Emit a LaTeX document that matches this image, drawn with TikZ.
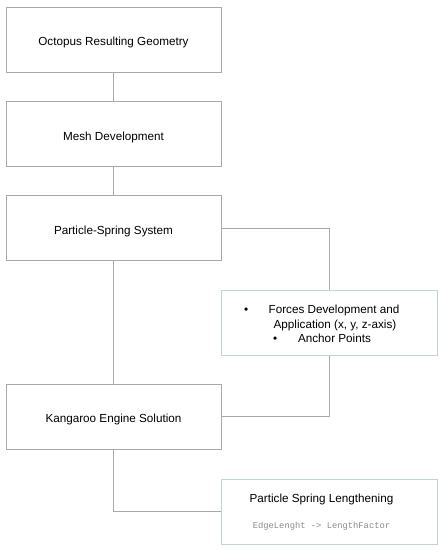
\documentclass[tikz,border=0pt]{standalone}
\usepackage{fontspec}
\setmainfont{Liberation Sans}
\setmonofont{Liberation Mono}
\definecolor{boxgray}{HTML}{A8A8A8}
\definecolor{boxblue}{HTML}{C0D4D8}
\definecolor{monogray}{HTML}{8A8A8A}
\begin{document}
\begin{tikzpicture}[x=1pt,y=-1pt,
  txt/.style={font=\fontsize{11.7}{14}\selectfont},
  box/.style={draw=boxgray,line width=0.9pt,fill=white,minimum width=215pt,minimum height=65pt,inner sep=0pt,txt,text height=12.6pt,text depth=0pt},
  sidebox/.style={box,draw=boxblue,line width=1pt,minimum width=216pt},
  link/.style={draw=boxgray,line width=0.9pt}]
\useasboundingbox (0,0) rectangle (442,550);
\node[box] (oct) at (113.5,39.5) {Octopus Resulting Geometry};
\node[box] (mesh) at (113.5,134) {Mesh Development};
\node[box] (ps) at (113.5,228) {Particle-Spring System};
\node[box] (kang) at (113.5,416.5) {Kangaroo Engine Solution};
\node[sidebox] (forces) at (329,322.5) {};
\node[sidebox] (psl) at (329,511.5) {};
\node[txt,anchor=base west,inner sep=0pt] (b1) at (244,313) {\textbullet};
\node[txt,anchor=base,inner sep=0pt] (t1) at (334,313) {Forces Development and};
\node[txt,anchor=base,inner sep=0pt] (t2) at (335,328) {Application (x, y, z-axis)};
\node[txt,anchor=base west,inner sep=0pt] (b2) at (273,342) {\textbullet};
\node[txt,anchor=base,inner sep=0pt] (t3) at (334.5,342) {Anchor Points};
\node[txt,anchor=base,inner sep=0pt] (t4) at (321.5,502) {Particle Spring Lengthening};
\node[font=\ttfamily\fontsize{8.8}{10}\selectfont,text=monogray,anchor=base,inner sep=0pt] (t5) at (321.5,528) {EdgeLenght -> LengthFactor};
\draw[link] (oct) -- (mesh);
\draw[link] (mesh) -- (ps);
\draw[link] (ps) -- (kang);
\draw[link] (ps.east) -| (forces.north);
\draw[link] (forces.south) |- (kang.east);
\draw[link] (kang.south) |- (psl.west);
\end{tikzpicture}
\end{document}
